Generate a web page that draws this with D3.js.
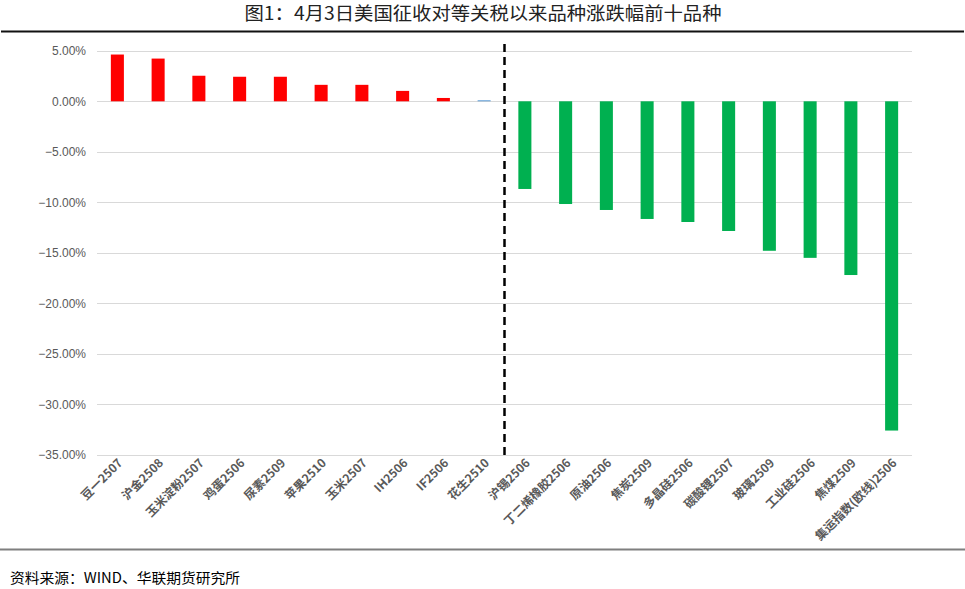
<!DOCTYPE html>
<html><head><meta charset="utf-8">
<script src="https://cdn.jsdelivr.net/npm/d3@7"></script>
<style>body{margin:0;background:#fff}svg{display:block}</style>
</head><body>
<svg id="c" width="965" height="589"></svg>
<script>
const categories = ["豆一2507","沪金2508","玉米淀粉2507","鸡蛋2506","尿素2509","苹果2510","玉米2507","IH2506","IF2506","花生2510",
  "沪锡2506","丁二烯橡胶2506","原油2506","焦炭2509","多晶硅2506","碳酸锂2507","玻璃2509","工业硅2506","焦煤2509","集运指数(欧线)2506"];
const values = [4.63,4.23,2.53,2.43,2.43,1.63,1.63,1.03,0.33,0.10,
  -8.68,-10.17,-10.76,-11.65,-11.95,-12.84,-14.8,-15.5,-17.2,-32.6];
const yTicks = [5,0,-5,-10,-15,-20,-25,-30,-35];
const title = "图1：4月3日美国征收对等关税以来品种涨跌幅前十品种";
const source = "资料来源：WIND、华联期货研究所";

const svg = d3.select("#c");
const x = d3.scaleBand().domain(categories).range([97, 912]).paddingInner(0.68).paddingOuter(0.34);
const y = d3.scaleLinear().domain([-35, 5]).range([454.8, 50.8]);

// title
svg.append("text").attr("x", 483).attr("y", 20).attr("text-anchor", "middle")
  .attr("font-family", "'Noto Sans CJK SC'").attr("font-size", 18).attr("fill", "#222")
  .attr("textLength", 477).attr("lengthAdjust", "spacingAndGlyphs").text(title);
svg.append("line").attr("x1", 1).attr("x2", 964).attr("y1", 31.5).attr("y2", 31.5)
  .attr("stroke", "#111").attr("stroke-width", 2);

// grid
const yAxis = d3.axisLeft(y).tickValues(yTicks).tickSize(0).tickPadding(11)
  .tickFormat(d => d3.format(".2f")(d) + "%");
const gy = svg.append("g").attr("transform", "translate(97,0)").call(yAxis);
gy.select(".domain").remove();
gy.selectAll("text").attr("font-family", "'Liberation Sans', Arial").attr("font-size", 12).attr("fill", "#595959");
svg.append("g").selectAll("line").data(yTicks).join("line")
  .attr("x1", 97).attr("x2", 912).attr("y1", d => Math.round(y(d)) + 0.5).attr("y2", d => Math.round(y(d)) + 0.5)
  .attr("stroke", "#d9d9d9").attr("stroke-width", 1);

// bars
svg.append("g").selectAll("rect").data(values).join("rect")
  .attr("x", (d, i) => x(categories[i]))
  .attr("width", x.bandwidth())
  .attr("y", d => y(Math.max(0, d)))
  .attr("height", d => Math.abs(y(d) - y(0)))
  .attr("fill", (d, i) => i === 9 ? "#5b9bd5" : (d >= 0 ? "#ff0000" : "#00b050"));

// x labels
const gx = svg.append("g").attr("transform", `translate(0,${y(-35)})`)
  .call(d3.axisBottom(x).tickSize(0).tickPadding(0));
gx.select(".domain").remove();
gx.selectAll("text")
  .attr("font-family", "'Noto Sans CJK SC'").attr("font-weight", "bold").attr("font-size", 12).attr("fill", "#595959")
  .attr("text-anchor", "end").attr("dy", null)
  .attr("transform", "translate(6,9) rotate(-45)");

// dashed separator
const sepX = (x(categories[9]) + x(categories[10]) + x.bandwidth()) / 2;
svg.append("line").attr("x1", sepX).attr("x2", sepX).attr("y1", 44).attr("y2", 457)
  .attr("stroke", "#000").attr("stroke-width", 2.5).attr("stroke-dasharray", "8,5");

// bottom line and source
svg.append("line").attr("x1", 0).attr("x2", 965).attr("y1", 549.5).attr("y2", 549.5)
  .attr("stroke", "#7f7f7f").attr("stroke-width", 2);
svg.append("text").attr("x", 10).attr("y", 583)
  .attr("font-family", "'Noto Sans CJK SC'").attr("font-size", 14).attr("fill", "#000")
  .attr("textLength", 230).attr("lengthAdjust", "spacingAndGlyphs").text(source);
</script>
</body></html>
